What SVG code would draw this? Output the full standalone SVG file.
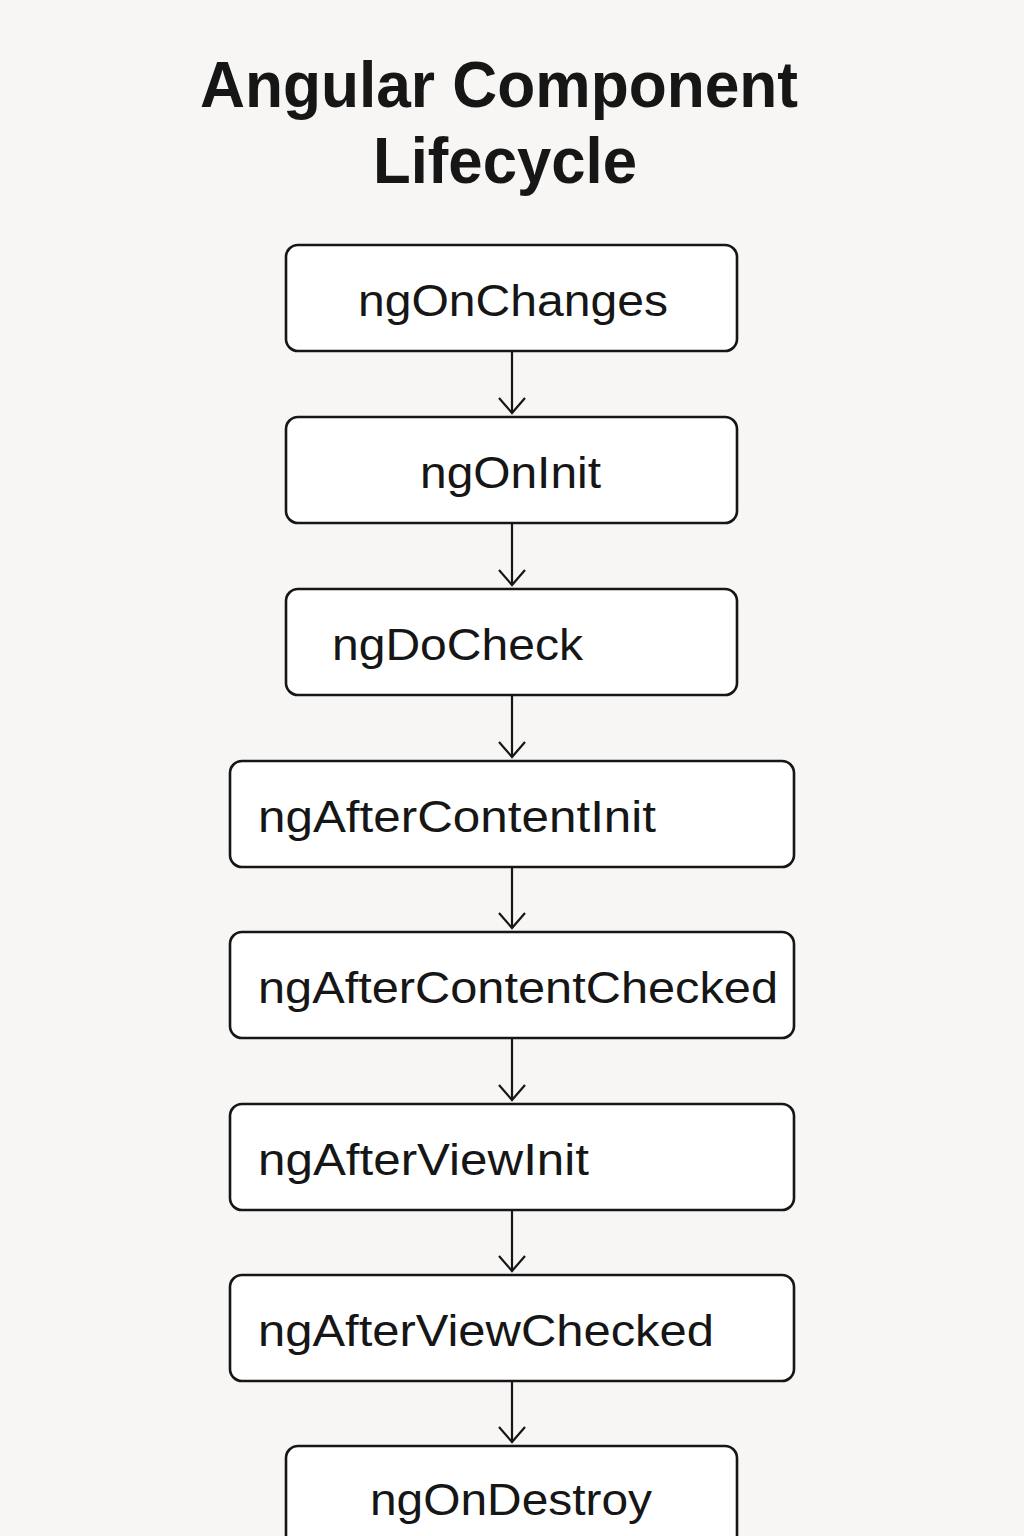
<svg xmlns="http://www.w3.org/2000/svg" width="1024" height="1536" viewBox="0 0 1024 1536">
<style>
.box{fill:#ffffff;stroke:#161616;stroke-width:2.6}
.lbl{font-family:"Liberation Sans",Arial,sans-serif;font-size:44px;fill:#161616}
.title{font-family:"Liberation Sans",Arial,sans-serif;font-size:64px;font-weight:bold;fill:#161616;text-anchor:middle}
.conn{stroke:#161616;stroke-width:2.2;fill:none}
</style>
<defs>
<marker id="arr" markerUnits="userSpaceOnUse" markerWidth="18" markerHeight="30" refX="16" refY="14" orient="auto" viewBox="0 0 18 28" overflow="visible">
<path d="M1 1 L16 14 L1 27" fill="none" stroke="#161616" stroke-width="2.2"/>
</marker>
</defs>
<rect width="1024" height="1536" fill="#f7f6f4"/>
<g id="title">
<text class="title" x="499" y="107" textLength="598" lengthAdjust="spacingAndGlyphs">Angular Component</text>
<text class="title" x="505" y="183" textLength="264" lengthAdjust="spacingAndGlyphs">Lifecycle</text>
</g>
<g id="connectors">
<line class="conn" x1="512" y1="351" x2="512" y2="413" marker-end="url(#arr)"/>
<line class="conn" x1="512" y1="523" x2="512" y2="585" marker-end="url(#arr)"/>
<line class="conn" x1="512" y1="695" x2="512" y2="757" marker-end="url(#arr)"/>
<line class="conn" x1="512" y1="867" x2="512" y2="928" marker-end="url(#arr)"/>
<line class="conn" x1="512" y1="1038" x2="512" y2="1100" marker-end="url(#arr)"/>
<line class="conn" x1="512" y1="1210" x2="512" y2="1271" marker-end="url(#arr)"/>
<line class="conn" x1="512" y1="1381" x2="512" y2="1442" marker-end="url(#arr)"/>
</g>
<g id="ngOnChanges">
<rect class="box" x="286" y="245" width="451" height="106" rx="12"/>
<text class="lbl" x="358" y="316" textLength="310" lengthAdjust="spacingAndGlyphs">ngOnChanges</text>
</g>
<g id="ngOnInit">
<rect class="box" x="286" y="417" width="451" height="106" rx="12"/>
<text class="lbl" x="420" y="488" textLength="181" lengthAdjust="spacingAndGlyphs">ngOnInit</text>
</g>
<g id="ngDoCheck">
<rect class="box" x="286" y="589" width="451" height="106" rx="12"/>
<text class="lbl" x="332" y="660" textLength="251" lengthAdjust="spacingAndGlyphs">ngDoCheck</text>
</g>
<g id="ngAfterContentInit">
<rect class="box" x="230" y="761" width="564" height="106" rx="12"/>
<text class="lbl" x="258" y="832" textLength="398" lengthAdjust="spacingAndGlyphs">ngAfterContentInit</text>
</g>
<g id="ngAfterContentChecked">
<rect class="box" x="230" y="932" width="564" height="106" rx="12"/>
<text class="lbl" x="258" y="1003" textLength="520" lengthAdjust="spacingAndGlyphs">ngAfterContentChecked</text>
</g>
<g id="ngAfterViewInit">
<rect class="box" x="230" y="1104" width="564" height="106" rx="12"/>
<text class="lbl" x="258" y="1175" textLength="331" lengthAdjust="spacingAndGlyphs">ngAfterViewInit</text>
</g>
<g id="ngAfterViewChecked">
<rect class="box" x="230" y="1275" width="564" height="106" rx="12"/>
<text class="lbl" x="258" y="1346" textLength="456" lengthAdjust="spacingAndGlyphs">ngAfterViewChecked</text>
</g>
<g id="ngOnDestroy">
<rect class="box" x="286" y="1446" width="451" height="106" rx="12"/>
<text class="lbl" x="370" y="1515" textLength="282" lengthAdjust="spacingAndGlyphs">ngOnDestroy</text>
</g>
</svg>
